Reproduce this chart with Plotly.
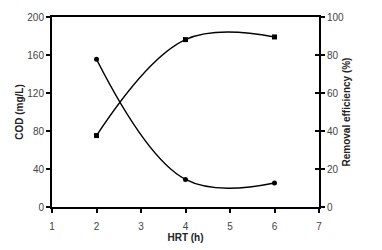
import plotly.graph_objects as go

hrt = [2, 4, 6]
cod = [155.5, 29, 25.3]
removal = [37.6, 88.1, 89.5]

x_ticks = [1, 2, 3, 4, 5, 6, 7]
cod_ticks = [0, 40, 80, 120, 160, 200]
rem_ticks = [0, 20, 40, 60, 80, 100]

font = "Liberation Sans, Arial, sans-serif"

fig = go.Figure()
fig.add_trace(go.Scatter(x=hrt, y=cod, mode="lines+markers",
                         line=dict(color="black", width=1.5, shape="spline", smoothing=1.1),
                         marker=dict(symbol="circle", size=5, color="black"),
                         yaxis="y", showlegend=False))
fig.add_trace(go.Scatter(x=hrt, y=removal, mode="lines+markers",
                         line=dict(color="black", width=1.5, shape="spline", smoothing=1.1),
                         marker=dict(symbol="square", size=5, color="black"),
                         yaxis="y2", showlegend=False))

fig.update_layout(
    width=382, height=250,
    margin=dict(l=52, r=63, t=17, b=43, autoexpand=False),
    paper_bgcolor="white", plot_bgcolor="white",
    font=dict(family=font, size=10, color="#333"),
    xaxis=dict(range=[1, 7], tickvals=x_ticks, showgrid=False, zeroline=False,
               showline=True, linecolor="black", linewidth=2, mirror=True,
               ticks="outside", ticklen=4, tickwidth=2, tickcolor="black",
               ticklabelstandoff=5, automargin=False,
               tickfont=dict(size=10, color="#444"),
               title=dict(text="<b>HRT (h)</b>", font=dict(size=10, color="#222"), standoff=3)),
    yaxis=dict(range=[0, 200], tickvals=cod_ticks, showgrid=False, zeroline=False,
               showline=True, linecolor="black", linewidth=2, automargin=False,
               ticks="outside", ticklen=4, tickwidth=2, tickcolor="black",
               tickfont=dict(size=10, color="#444"),
               title=dict(text="<b>COD (mg/L)</b>", font=dict(size=10, color="#222"), standoff=2)),
    yaxis2=dict(range=[0, 100], tickvals=rem_ticks, overlaying="y", side="right",
                showgrid=False, zeroline=False, automargin=False,
                showline=True, linecolor="black", linewidth=2,
                ticks="outside", ticklen=4, tickwidth=2, tickcolor="black",
                tickfont=dict(size=10, color="#444"),
                title=dict(text="<b>Removal efficiency (%)</b>", font=dict(size=10, color="#222"), standoff=0)),
    yaxis3=dict(range=[0, 100], tickvals=rem_ticks, overlaying="y", side="right",
                showgrid=False, zeroline=False, showline=False, showticklabels=False,
                automargin=False,
                ticks="inside", ticklen=4, tickwidth=2, tickcolor="black"),
)
fig.add_trace(go.Scatter(x=[None], y=[None], yaxis="y3", showlegend=False, hoverinfo="skip"))

fig.write_html("out.html")
